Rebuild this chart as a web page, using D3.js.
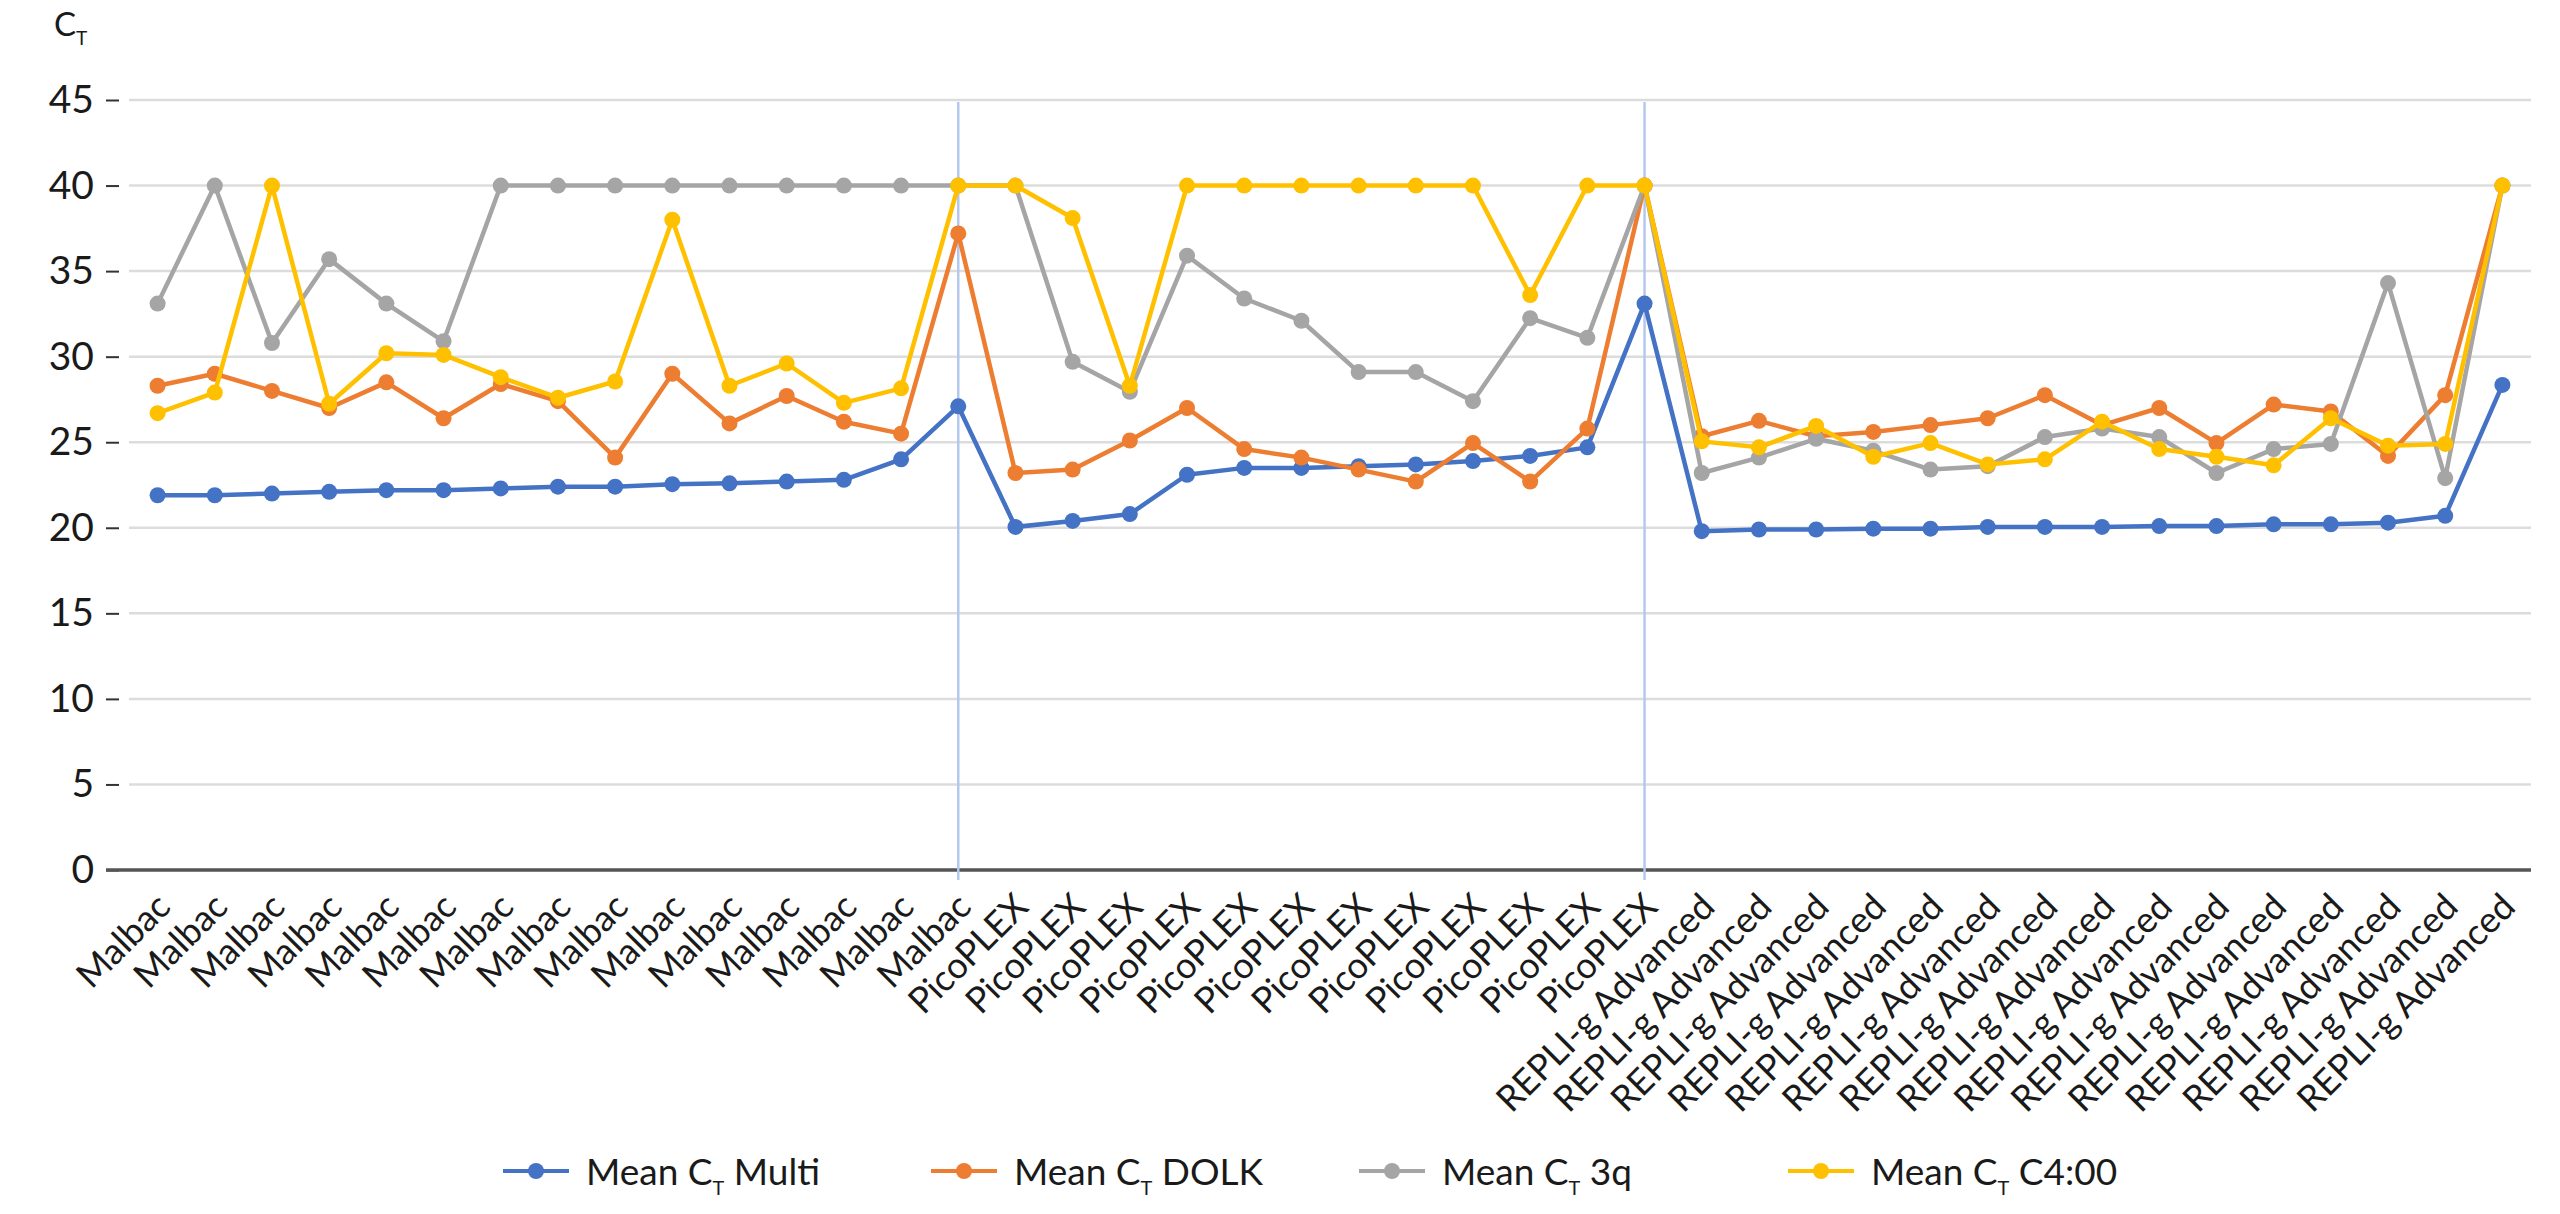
<!DOCTYPE html>
<html>
<head>
<meta charset="utf-8">
<script src="https://cdn.jsdelivr.net/npm/d3@7"></script>
<style>
  html, body { margin: 0; padding: 0; background: #fff; }
  svg { display: block; }
  text { font-family: Lato, "Open Sans", sans-serif; fill: #1a1a1a; }
</style>
</head>
<body>
<svg id="chart" width="2560" height="1214"></svg>
<script>
// ---- data ----
const groups = ["Malbac", "PicoPLEX", "REPLI-g Advanced"];
const groupCounts = [15, 12, 15];
const categories = [];
groups.forEach((g, i) => { for (let k = 0; k < groupCounts[i]; k++) categories.push(g); });

const meanMulti = [
  21.9, 21.9, 22.0, 22.1, 22.2, 22.2, 22.3, 22.4, 22.4, 22.55, 22.6, 22.7, 22.8, 24.0, 27.1,
  20.05, 20.4, 20.8, 23.1, 23.5, 23.5, 23.6, 23.7, 23.9, 24.2, 24.7, 33.1,
  19.8, 19.9, 19.9, 19.95, 19.95, 20.05, 20.05, 20.05, 20.1, 20.1, 20.2, 20.2, 20.3, 20.7, 28.35
];
const meanDOLK = [
  28.3, 29.0, 28.0, 27.0, 28.5, 26.4, 28.4, 27.4, 24.1, 29.0, 26.1, 27.7, 26.2, 25.5, 37.2,
  23.2, 23.4, 25.1, 27.0, 24.6, 24.1, 23.4, 22.7, 24.95, 22.7, 25.8, 40.0,
  25.35, 26.25, 25.35, 25.6, 26.0, 26.4, 27.75, 26.0, 27.0, 24.95, 27.2, 26.8, 24.2, 27.75, 40.0
];
const mean3q = [
  33.1, 40.0, 30.8, 35.7, 33.1, 30.9, 40.0, 40.0, 40.0, 40.0, 40.0, 40.0, 40.0, 40.0, 40.0,
  40.0, 29.7, 27.95, 35.9, 33.4, 32.1, 29.1, 29.1, 27.4, 32.25, 31.1, 40.0,
  23.2, 24.1, 25.2, 24.5, 23.4, 23.6, 25.3, 25.8, 25.3, 23.2, 24.6, 24.9, 34.3, 22.9, 40.0
];
const meanC400 = [
  26.7, 27.9, 40.0, 27.25, 30.2, 30.1, 28.8, 27.6, 28.55, 38.0, 28.3, 29.6, 27.3, 28.15, 40.0,
  40.0, 38.1, 28.3, 40.0, 40.0, 40.0, 40.0, 40.0, 40.0, 33.6, 40.0, 40.0,
  25.05, 24.7, 25.95, 24.15, 24.95, 23.7, 24.0, 26.2, 24.6, 24.15, 23.65, 26.4, 24.8, 24.9, 40.0
];
const yTicks = [0, 5, 10, 15, 20, 25, 30, 35, 40, 45];
const seriesNames = ["Multi", "DOLK", "3q", "C4:00"];
const seriesColors = ["#4472C4", "#ED7D31", "#A5A5A5", "#FFC000"];
const dividerIndex = [14, 26];

const series = [meanMulti, meanDOLK, mean3q, meanC400].map((v, i) => ({
  name: seriesNames[i], color: seriesColors[i], values: v
}));

// ---- layout ----
const svg = d3.select("#chart");
const plotLeft = 129, plotRight = 2531, plotTop = 100, plotBottom = 870;

const x = d3.scalePoint()
  .domain(d3.range(categories.length))
  .range([plotLeft, plotRight])
  .padding(0.5);
const y = d3.scaleLinear().domain([0, 45]).range([plotBottom, plotTop]);

// gridlines
svg.append("g").selectAll("line")
  .data(yTicks.filter(t => t > 0))
  .join("line")
  .attr("x1", plotLeft).attr("x2", plotRight)
  .attr("y1", d => y(d)).attr("y2", d => y(d))
  .attr("stroke", "#dcdcdc").attr("stroke-width", 2.5);

// y axis (ticks + labels)
const yAxis = d3.axisLeft(y).tickValues(yTicks).tickSize(13).tickPadding(12).tickFormat(d3.format("d"));
const yg = svg.append("g").attr("transform", `translate(${plotLeft - 10},0)`).call(yAxis);
yg.select(".domain").remove();
yg.selectAll(".tick line").attr("stroke", "#333").attr("stroke-width", 2);
yg.selectAll(".tick text").attr("font-size", 39).attr("fill", "#1a1a1a")
  .attr("font-family", "Lato, sans-serif");

// zero axis line
svg.append("line")
  .attr("x1", plotLeft - 23).attr("x2", plotRight)
  .attr("y1", y(0)).attr("y2", y(0))
  .attr("stroke", "#555").attr("stroke-width", 3.5);

// divider lines
svg.append("g").selectAll("line")
  .data(dividerIndex)
  .join("line")
  .attr("x1", d => x(d)).attr("x2", d => x(d))
  .attr("y1", y(45) + 2).attr("y2", y(0) + 10)
  .attr("stroke", "#b4c8ee").attr("stroke-width", 2.5);

// y title C_T
const yt = svg.append("text").attr("x", 54).attr("y", 36).attr("font-size", 33);
yt.append("tspan").text("C");
yt.append("tspan").text("T").attr("font-size", 19).attr("dy", 9);

// x labels
svg.append("g").selectAll("text")
  .data(categories)
  .join("text")
  .attr("transform", (d, i) => `translate(${x(i) + 6},${plotBottom + 30}) rotate(-45)`)
  .attr("text-anchor", "end")
  .attr("dy", "0.35em")
  .attr("font-size", 36)
  .text(d => d);

// lines + markers
const line = d3.line().x((d, i) => x(i)).y(d => y(d));
const sg = svg.append("g").selectAll("g").data(series).join("g");
sg.append("path")
  .attr("d", d => line(d.values))
  .attr("fill", "none")
  .attr("stroke", d => d.color)
  .attr("stroke-width", 4.5)
  .attr("stroke-linejoin", "round");
sg.each(function (s) {
  d3.select(this).selectAll("circle")
    .data(s.values)
    .join("circle")
    .attr("cx", (d, i) => x(i))
    .attr("cy", d => y(d))
    .attr("r", 8)
    .attr("fill", s.color);
});

// legend
const legendX = [503, 931, 1359, 1788];
const lg = svg.append("g").selectAll("g").data(series).join("g")
  .attr("transform", (d, i) => `translate(${legendX[i]},1171)`);
lg.append("line").attr("x1", 0).attr("x2", 66).attr("y1", 0).attr("y2", 0)
  .attr("stroke", d => d.color).attr("stroke-width", 4);
lg.append("circle").attr("cx", 33).attr("cy", 0).attr("r", 8).attr("fill", d => d.color);
const lt = lg.append("text").attr("x", 83).attr("y", 14).attr("font-size", 37);
lt.append("tspan").text("Mean C");
lt.append("tspan").text("T").attr("font-size", 20).attr("dy", 10);
lt.append("tspan").text(d => " " + d.name).attr("dy", -10);
</script>
</body>
</html>
